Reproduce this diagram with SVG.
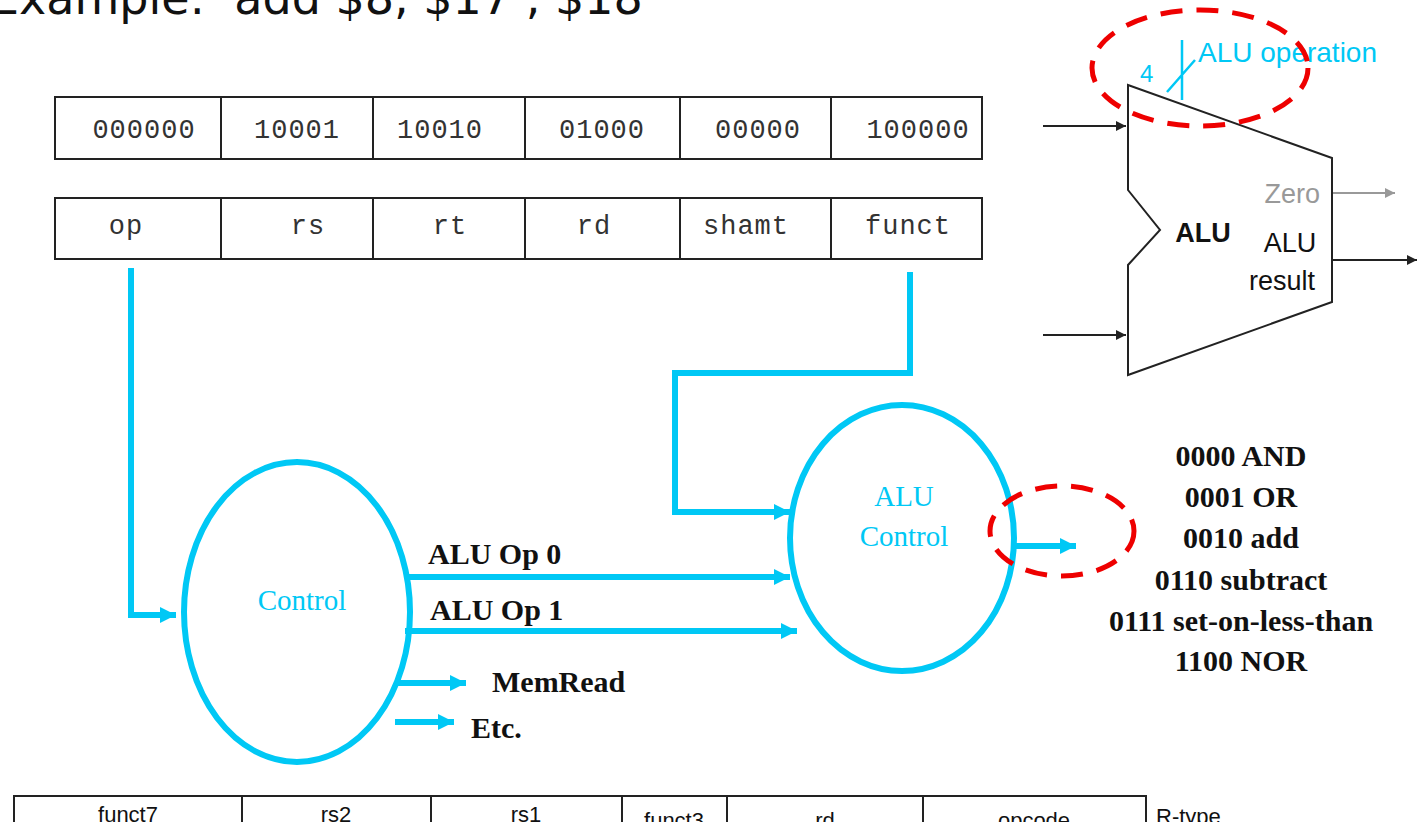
<svg xmlns="http://www.w3.org/2000/svg" width="1425" height="822" viewBox="0 0 1425 822">
<defs>
<style>
.mono{font-family:"Liberation Mono",monospace;font-size:27px;fill:#333;text-anchor:middle;letter-spacing:1px}
.cy{stroke:#00c8f5;stroke-width:6;fill:none}
.cyt{font-family:"Liberation Serif",serif;font-size:29px;fill:#00c8f5;text-anchor:middle}
.bt{font-family:"Liberation Serif",serif;font-size:30px;font-weight:bold;fill:#111}
.sans{font-family:"Liberation Sans",sans-serif}
.cell{fill:#fff;stroke:#222;stroke-width:2}
</style>
<marker id="cb" viewBox="0 0 10 10" refX="10" refY="5" markerWidth="22" markerHeight="16" orient="auto" markerUnits="userSpaceOnUse"><path d="M0,0L10,5L0,10z" fill="#00c8f5"/></marker>
<marker id="ka" viewBox="0 0 10 10" refX="10" refY="5" markerWidth="18" markerHeight="10" orient="auto" markerUnits="userSpaceOnUse"><path d="M0,0L10,5L0,10z" fill="#222"/></marker>
<marker id="ga" viewBox="0 0 10 10" refX="10" refY="5" markerWidth="18" markerHeight="10" orient="auto" markerUnits="userSpaceOnUse"><path d="M0,0L10,5L0,10z" fill="#999"/></marker>
</defs>
<rect width="1425" height="822" fill="#fff"/>
<text x="-10" y="14" font-family="DejaVu Sans,sans-serif" font-size="46" fill="#111" xml:space="preserve">Example:  add $8, $17 , $18</text>

<g id="fields">
<rect class="cell" x="55" y="97" width="927" height="62"/>
<path d="M221,97V159M373,97V159M525,97V159M680,97V159M831,97V159" stroke="#222" stroke-width="2"/>
<text class="mono" x="144" y="138">000000</text><text class="mono" x="297" y="138">10001</text><text class="mono" x="440" y="138">10010</text><text class="mono" x="602" y="138">01000</text><text class="mono" x="758" y="138">00000</text><text class="mono" x="918" y="138">100000</text>
<rect class="cell" x="55" y="198" width="927" height="61"/>
<path d="M221,198V259M373,198V259M525,198V259M680,198V259M831,198V259" stroke="#222" stroke-width="2"/>
<text class="mono" x="126" y="234">op</text><text class="mono" x="308" y="234">rs</text><text class="mono" x="450" y="234">rt</text><text class="mono" x="594" y="234">rd</text><text class="mono" x="746" y="234">shamt</text><text class="mono" x="908" y="234">funct</text>
</g>

<g id="connectors">
<path class="cy" d="M131,268V615H176" marker-end="url(#cb)"/>
<path class="cy" d="M910,272V373H675V512H790" marker-end="url(#cb)"/>
<path class="cy" d="M405,577H790" marker-end="url(#cb)"/>
<path class="cy" d="M405,631H797" marker-end="url(#cb)"/>
<path class="cy" d="M395,683H466" marker-end="url(#cb)"/>
<path class="cy" d="M395,722H454" marker-end="url(#cb)"/>
<path class="cy" d="M1015,546H1076" marker-end="url(#cb)"/>
<path d="M1043,126H1126" stroke="#222" stroke-width="2" marker-end="url(#ka)"/>
<path d="M1043,335H1126" stroke="#222" stroke-width="2" marker-end="url(#ka)"/>
<path d="M1332,260H1417" stroke="#222" stroke-width="2" marker-end="url(#ka)"/>
<path d="M1332,193H1395" stroke="#999" stroke-width="2" marker-end="url(#ga)"/>
<path d="M1182,40V100M1167,92L1195,60" stroke="#00c8f5" stroke-width="2.5" fill="none"/>
</g>

<g id="control">
<ellipse class="cy" cx="297" cy="612" rx="113" ry="150" stroke-width="4"/>
<text class="cyt" x="302" y="610">Control</text>
</g>
<g id="alucontrol">
<ellipse class="cy" cx="902" cy="538" rx="112" ry="133" stroke-width="4"/>
<text class="cyt" x="904" y="506">ALU</text><text class="cyt" x="904" y="546">Control</text>
</g>
<g id="labels">
<text class="bt" x="428" y="564">ALU Op 0</text>
<text class="bt" x="430" y="620">ALU Op 1</text>
<text class="bt" x="492" y="692">MemRead</text>
<text class="bt" x="471" y="738">Etc.</text>
<g class="bt" text-anchor="middle" xml:space="preserve">
<text x="1241" y="466">0000  AND</text>
<text x="1241" y="507">0001  OR</text>
<text x="1241" y="548">0010  add</text>
<text x="1241" y="590">0110  subtract</text>
<text x="1241" y="631">0111  set-on-less-than</text>
<text x="1241" y="671">1100  NOR</text>
</g>
</g>
<g id="alu">
<polygon points="1128,85 1332,158 1332,302 1128,375 1128,265 1160,230 1128,190" fill="#fff" stroke="#222" stroke-width="2"/>
<text class="sans" x="1198" y="62" font-size="28" fill="#00c8f5">ALU operation</text>
<text class="sans" x="1140" y="82" font-size="24" fill="#00c8f5">4</text>
<text class="sans" x="1320" y="203" font-size="27" fill="#999" text-anchor="end">Zero</text>
<text class="sans" x="1203" y="242" font-size="27" font-weight="bold" fill="#111" text-anchor="middle">ALU</text>
<text class="sans" x="1290" y="252" font-size="27" fill="#111" text-anchor="middle">ALU</text>
<text class="sans" x="1282" y="290" font-size="27" fill="#111" text-anchor="middle">result</text>
</g>
<g id="highlights" fill="none" stroke="#e00" stroke-width="5" stroke-dasharray="22,14">
<ellipse cx="1200" cy="68" rx="108" ry="58"/>
<ellipse cx="1062" cy="531" rx="72" ry="45"/>
</g>
<g id="riscv">
<rect x="14" y="796" width="1132" height="60" fill="#fff" stroke="#222" stroke-width="2"/>
<path d="M242,796V822M431,796V822M622,796V822M727,796V822M923,796V822" stroke="#222" stroke-width="2"/>
<g class="sans" font-size="22" fill="#111" text-anchor="middle">
<text x="128" y="822">funct7</text><text x="336" y="822">rs2</text><text x="526" y="822">rs1</text><text x="674" y="828">funct3</text><text x="825" y="828">rd</text><text x="1034" y="828">opcode</text>
</g>
<text class="sans" x="1156" y="824" font-size="22" fill="#111">R-type</text>
</g>
</svg>
